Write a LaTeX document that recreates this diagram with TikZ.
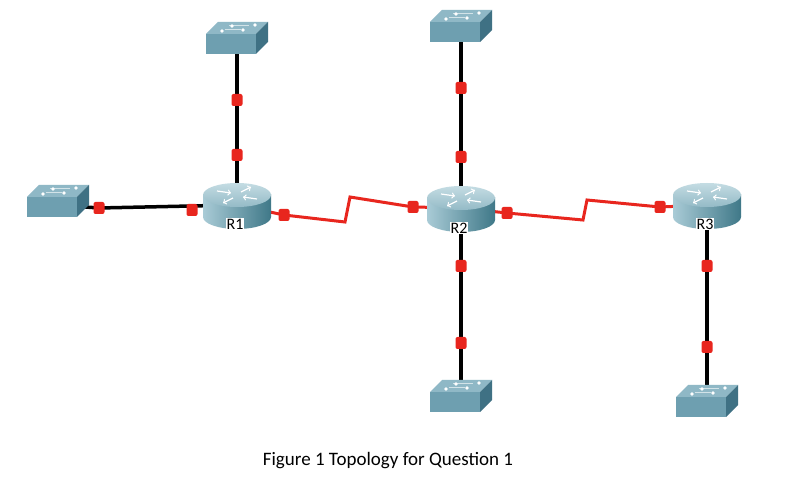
\documentclass[tikz,border=0pt]{standalone}
\usepackage{fontspec}
\setmainfont{Carlito}
\definecolor{swtop}{HTML}{8FB8C6}
\definecolor{swfront}{HTML}{6E9FB0}
\definecolor{swside}{HTML}{3F7184}
\definecolor{rtl}{HTML}{A9CBD6}
\definecolor{rtd}{HTML}{3F7888}
\definecolor{rtt}{HTML}{C4DCE3}
\definecolor{lnk}{HTML}{E8261E}
\begin{document}
\begin{tikzpicture}[x=1pt,y=-1pt,
  eth/.style={line width=3.5pt,black},
  ser/.style={line width=3pt,lnk},
  dot/.style={fill=lnk,rounded corners=2pt,minimum width=11pt,minimum height=12pt,inner sep=0pt},
  lbl/.style={fill=white,inner sep=1pt,font=\fontsize{16}{16}\selectfont},
  sw/.pic={
    \fill[swtop] (-31,-8) -- (-19,-20) -- (31,-20) -- (19,-8) -- cycle;
    \fill[swfront] (-31,-8) rectangle (19,12);
    \fill[swside] (19,-8) -- (31,-20) -- (31,0) -- (19,12) -- cycle;
    \draw[white!60!swtop,line width=1pt] (-12,-12) -- (4,-12) (-8,-16) -- (12,-16);
    \fill[white] (-15,-11) circle (1.8) (18,-17) circle (1.8) (6,-12) circle (1.8) (-5,-16) circle (1.8);
  },
  rt/.pic={
    \shade[left color=rtl, right color=rtd] (-34,-10) rectangle (34,12);
    \shade[left color=rtl, right color=rtd] (0,12) ellipse[x radius=34,y radius=12];
    \shade[top color=rtt, bottom color=rtl!80!rtd] (0,-10) ellipse[x radius=34,y radius=12];
    \draw[white,line width=1.2pt,->] (-20,-14) -- (-6,-12);
    \draw[white,line width=1.2pt,->] (20,-6) -- (6,-8);
    \draw[white,line width=1.2pt,->] (4,-13) -- (14,-18);
    \draw[white,line width=1.2pt,->] (-4,-7) -- (-14,-2);
  }]
\useasboundingbox (0,0) rectangle (812,486);
\fill[white] (0,0) rectangle (812,486);
\coordinate (s1) at (237,42); \coordinate (s2) at (461,30); \coordinate (s3) at (58,205);
\coordinate (s4) at (461,400); \coordinate (s5) at (707,405);
\coordinate (r1) at (237,205); \coordinate (r2) at (461,208); \coordinate (r3) at (707,205);
\draw[eth] (s1) -- (r1); \draw[eth] (s2) -- (r2); \draw[eth] (s3) -- (99,208) -- (r1);
\draw[eth] (r2) -- (s4); \draw[eth] (r3) -- (s5);
\coordinate (z1) at (345,222); \coordinate (z2) at (350,197);
\coordinate (z3) at (583,220); \coordinate (z4) at (587,200);
\draw[ser] (r1) -- (284,215) -- (z1) -- (z2) -- (413,207) -- (r2);
\draw[ser] (r2) -- (507,213) -- (z3) -- (z4) -- (660,207) -- (r3);
\pic at (s1) {sw}; \pic at (s2) {sw}; \pic at (s3) {sw}; \pic at (s4) {sw}; \pic at (s5) {sw};
\pic at (r1) {rt}; \pic at (r2) {rt}; \pic at (r3) {rt};
\node[lbl] (l1) at (235,224) {R1};
\node[lbl] (l2) at (459,228) {R2};
\node[lbl] (l3) at (705,224) {R3};
\foreach \p in {(237,100),(237,155),(461,88),(461,157),(99,208),(192,210),(284,215),(413,207),(507,213),(660,207),(461,266),(461,343),(707,266),(707,347)}
  \node[dot] at \p {};
\node[font=\fontsize{19}{19}\selectfont] (cap) at (388,461) {Figure 1 Topology for Question 1};
\end{tikzpicture}
\end{document}
